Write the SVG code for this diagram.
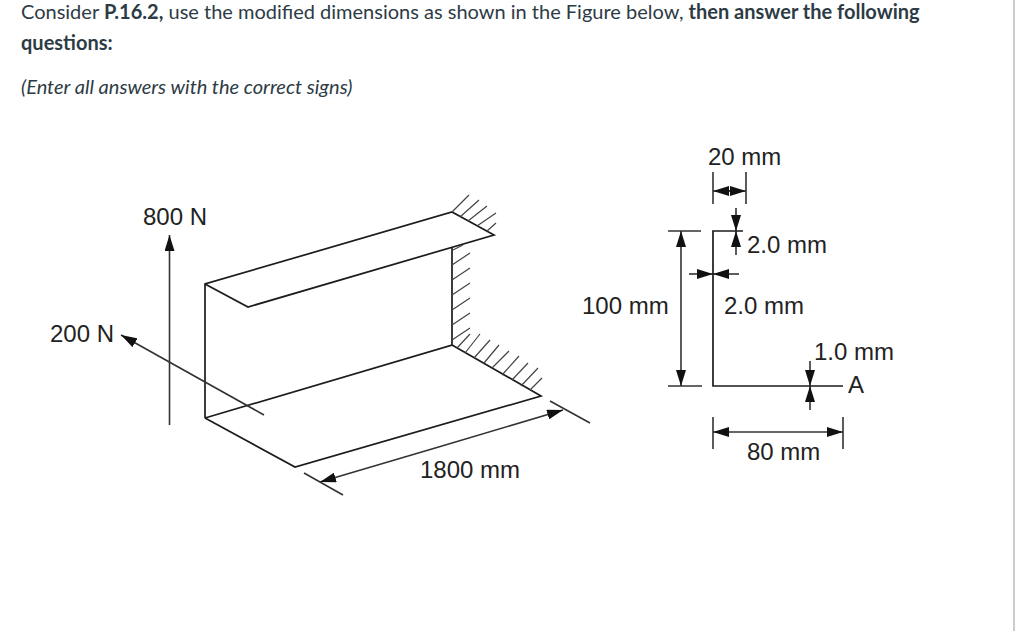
<svg xmlns="http://www.w3.org/2000/svg" width="1015" height="631" viewBox="0 0 1015 631">
<style>
.t{font-family:"Lato","Liberation Sans",sans-serif;font-size:20px;fill:#2d3b45}
.b{font-weight:700}
.i{font-style:italic}
.l{font-family:"Liberation Sans",Arial,sans-serif;font-size:24px;fill:#222}
.s{fill:none;stroke:#1c1c1c;stroke-width:1.7}
.d{fill:none;stroke:#333;stroke-width:1.6}
.h{fill:none;stroke:#444;stroke-width:1.2}
.a{fill:#111}
</style>
<defs>
<marker id="ah" viewBox="0 0 16 10" refX="16" refY="5" markerWidth="16" markerHeight="10" markerUnits="userSpaceOnUse" orient="auto"><path d="M0 0L16 5L0 10z" class="a"/></marker>
</defs>
<rect width="1015" height="631" fill="#fff"/>
<rect x="1013" y="0" width="2" height="631" fill="#c7cdd1"/>
<g id="prompt">
<text class="t" x="21" y="19">Consider <tspan class="b">P.16.2,</tspan>  use the modified dimensions as shown in the Figure below, <tspan class="b">then answer the following</tspan></text>
<text class="t b" x="21" y="50">questions:</text>
<text class="t i" x="21" y="94">(Enter all answers with the correct signs)</text>
</g>
<g id="beam">
<path class="s" d="M205 418V284L452 212L494 235L248 307L205 284M205 418L452 345V248M205 418L295 467L541 396L452 345"/>
</g>
<g id="hatching">
<path class="h" d="M452 212L469 195M460 217L479 200M468 221L487 206M477 226L496 213M487 231L496 223"/>
<path class="h" d="M453 250L463 245M452 265L470 253M452 280L470 268M452 295L470 283M452 310L470 298M452 325L470 313M452 340L470 328"/>
<path class="h" d="M457 348L470 334M465 353L480 334M474 358L490 340M484 363L499 345M492 368L509 351M502 375L519 356M512 380L528 363M521 386L538 368M530 390L542 378"/>
</g>
<g id="connectors">
<path class="d" d="M169.500 425V235" marker-end="url(#ah)"/>
<path class="d" d="M264 415L121 335" marker-end="url(#ah)"/>
<path class="d" d="M442 446L563 410" marker-end="url(#ah)"/>
<path class="d" d="M442 446L320 482" marker-end="url(#ah)"/>
<path class="d" d="M550 401L590 423M304 473L343 495"/>
<path class="d" d="M668 231H701M668 386H702M713 172V204M746 172V204M713 417V449M843 417V449"/>
<path class="d" d="M681 308V231" marker-end="url(#ah)"/>
<path class="d" d="M681 308V386" marker-end="url(#ah)"/>
<path class="d" d="M730 191H713" marker-end="url(#ah)"/>
<path class="d" d="M729 191H746" marker-end="url(#ah)"/>
<path class="d" d="M736 208V231" marker-end="url(#ah)"/>
<path class="d" d="M736 255V231" marker-end="url(#ah)"/>
<path class="d" d="M689 274H713" marker-end="url(#ah)"/>
<path class="d" d="M739 274H713" marker-end="url(#ah)"/>
<path class="d" d="M810 361V386" marker-end="url(#ah)"/>
<path class="d" d="M810 410V386" marker-end="url(#ah)"/>
<path class="d" d="M778 432H713" marker-end="url(#ah)"/>
<path class="d" d="M778 432H843" marker-end="url(#ah)"/>
</g>
<g id="section">
<path class="s" d="M743 231H713V386H843"/>
</g>
<g id="labels">
<text class="l" x="143" y="225">800 N</text>
<text class="l" x="50" y="342">200 N</text>
<text class="l" x="420" y="478">1800 mm</text>
<text class="l" x="582" y="314">100 mm</text>
<text class="l" x="708" y="165">20 mm</text>
<text class="l" x="747" y="253">2.0 mm</text>
<text class="l" x="724" y="314">2.0 mm</text>
<text class="l" x="814" y="360">1.0 mm</text>
<text class="l" x="848" y="393">A</text>
<text class="l" x="747" y="460">80 mm</text>
</g>
</svg>
